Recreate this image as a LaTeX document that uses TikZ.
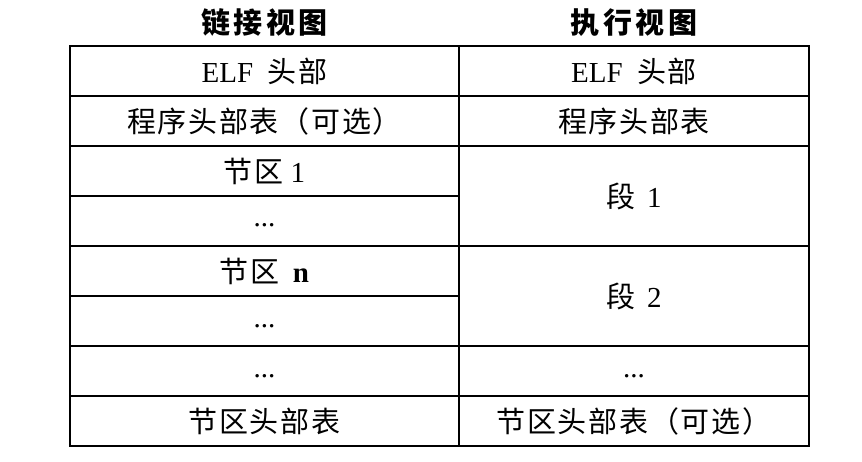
\documentclass[tikz,border=0pt]{standalone}
\usepackage{fontspec}
\setmainfont{Liberation Serif}
\newfontfamily\cjk[LetterSpace=6]{Noto Sans CJK SC}
\newfontfamily\cjkhead[LetterSpace=12]{Noto Sans CJK SC}
\usetikzlibrary{positioning}

\tikzset{
  cell/.style={draw, line width=1.5pt, inner sep=0pt, outer sep=0pt,
    minimum height=50pt, font=\fontsize{29}{32}\selectfont},
  lcell/.style={cell, minimum width=389pt},
  rcell/.style={cell, minimum width=350pt},
  dots/.style={text height=18pt, text depth=6pt},
  head/.style={font=\fontsize{29}{32}\selectfont\cjkhead\bfseries},
}

\begin{document}
\begin{tikzpicture}[x=1pt,y=-1pt]
    \useasboundingbox (0,0) rectangle (862,462);
    % link view
    \node[lcell] (l1) at (264.5,71) {ELF\hspace{0.5em}{\cjk 头部}};
    \node[lcell, below=0pt of l1] (l2) {{\cjk 程序头部表（可选）}};
    \node[lcell, below=0pt of l2] (l3) {{\cjk 节区} 1};
    \node[lcell, dots, below=0pt of l3] (l4) {...};
    \node[lcell, below=0pt of l4] (l5) {{\cjk 节区}\hspace{0.4em}\textbf{n}};
    \node[lcell, dots, below=0pt of l5] (l6) {...};
    \node[lcell, dots, below=0pt of l6] (l7) {...};
    \node[lcell, below=0pt of l7] (l8) {{\cjk 节区头部表}};
    % execution view
    \node[rcell, right=0pt of l1] (r1) {ELF\hspace{0.5em}{\cjk 头部}};
    \node[rcell, below=0pt of r1] (r2) {{\cjk 程序头部表}};
    \node[rcell, below=0pt of r2, minimum height=100pt] (r3) {{\cjk 段}\hspace{0.4em}1};
    \node[rcell, below=0pt of r3, minimum height=100pt] (r4) {{\cjk 段}\hspace{0.4em}2};
    \node[rcell, dots, below=0pt of r4] (r5) {...};
    \node[rcell, below=0pt of r5] (r6) {{\cjk 节区头部表（可选）}};
    % headings
    \node[head, above=6pt of l1] (hlink) {链接视图};
    \node[head, above=6pt of r1] (hexec) {执行视图};
\end{tikzpicture}
\end{document}
